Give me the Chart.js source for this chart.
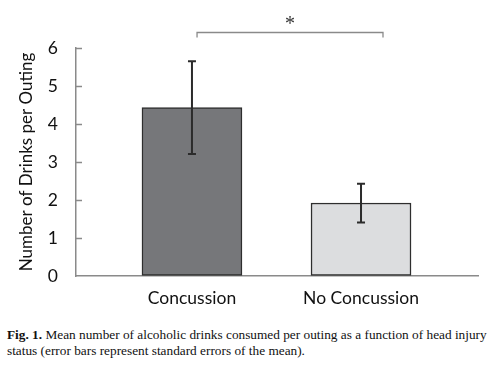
<!DOCTYPE html>
<html>
<head>
<meta charset="utf-8">
<script src="https://cdn.jsdelivr.net/npm/chart.js@4/dist/chart.umd.min.js"></script>
<style>
  html, body { margin: 0; padding: 0; background: #fff; }
  #wrap { position: relative; width: 500px; height: 368px; }
  #chart { position: absolute; left: 0; top: 0; }
  #caption {
    position: absolute; left: 7px; top: 327px; width: 490px;
    font-family: "Liberation Serif", "DejaVu Serif", serif; font-size: 13.3px; line-height: 16px; color: #111;
  }
</style>
</head>
<body>
<div id="wrap">
  <canvas id="chart" width="500" height="318"></canvas>
  <div id="caption"><b>Fig. 1.</b> Mean number of alcoholic drinks consumed per outing as a function of head injury status (error bars represent standard errors of the mean).</div>
</div>
<script>
// ─── DATA ────────────────────────────────────────────────────────────────────
const categories = ["Concussion", "No Concussion"];
const means      = [4.43, 1.92];
const stdErrors  = [1.22, 0.51];
const yTicks     = [0, 1, 2, 3, 4, 5, 6];
const barColors  = ["#76777a", "#dcdddf"];
const sigMark    = "*";

const FONT = "Lato, 'Open Sans', sans-serif";

// error bars + inner y ticks + significance bracket
const extras = {
  id: "extras",
  afterDatasetsDraw(chart){
    const {ctx, scales:{x, y}} = chart;
    ctx.save();
    ctx.strokeStyle = "#2b2b2b";
    ctx.lineWidth = 2;
    means.forEach((m, i) => {
      const px = x.getPixelForValue(i);
      const top = y.getPixelForValue(m + stdErrors[i]);
      const bot = y.getPixelForValue(m - stdErrors[i]);
      ctx.beginPath();
      ctx.moveTo(px, top); ctx.lineTo(px, bot);
      ctx.moveTo(px - 4, top); ctx.lineTo(px + 4, top);
      ctx.moveTo(px - 4, bot); ctx.lineTo(px + 4, bot);
      ctx.stroke();
    });
    ctx.restore();
  },
  afterDraw(chart){
    const {ctx, chartArea, scales:{x, y}} = chart;
    ctx.save();
    // inward tick marks on the y axis
    ctx.strokeStyle = "#8a8a8a";
    ctx.lineWidth = 1.5;
    y.ticks.forEach(t => {
      if(t.value === 0) return;
      const py = Math.round(y.getPixelForValue(t.value)) + 0.5;
      ctx.beginPath();
      ctx.moveTo(chartArea.left, py); ctx.lineTo(chartArea.left + 6, py);
      ctx.stroke();
    });
    // significance bracket
    const x1 = x.getPixelForValue(0.03), x2 = x.getPixelForValue(1.13);
    const by = chartArea.top - 15.5;
    ctx.strokeStyle = "#8a8a8a";
    ctx.lineWidth = 1.3;
    ctx.beginPath();
    ctx.moveTo(x1, by + 5); ctx.lineTo(x1, by); ctx.lineTo(x2, by); ctx.lineTo(x2, by + 5);
    ctx.stroke();
    ctx.fillStyle = "#333";
    ctx.font = "20px 'Liberation Serif', serif";
    ctx.textAlign = "center";
    ctx.textBaseline = "middle";
    ctx.fillText(sigMark, (x1 + x2) / 2, by - 8);
    ctx.restore();
  }
};

new Chart(document.getElementById("chart"), {
  type: "bar",
  data: {
    datasets: [{
      data: means.map((m, i) => ({x: i, y: m})),
      backgroundColor: barColors,
      borderColor: "#2e2e2e",
      borderWidth: 1.5,
      borderSkipped: false,
      barThickness: 100
    }]
  },
  options: {
    responsive: false,
    animation: false,
    layout: { padding: { top: 48, right: 22, left: 0, bottom: 0 } },
    plugins: { legend: { display: false }, tooltip: { enabled: false } },
    scales: {
      x: {
        type: "linear",
        offset: false,
        min: -0.686, max: 1.692,
        afterBuildTicks: s => { s.ticks = categories.map((c, i) => ({value: i})); },
        afterFit: s => { s.height = 42; },
        ticks: {
          callback: v => categories[v],
          color: "#111", padding: 12,
          font: { family: FONT, size: 17.5 }
        },
        grid: { display: true, drawOnChartArea: false, drawTicks: false },
        border: { display: true, color: "#8a8a8a", width: 1.5 }
      },
      y: {
        min: 0, max: 6,
        afterBuildTicks: s => { s.ticks = yTicks.map(v => ({value: v})); },
        afterFit: s => { s.width = 76; },
        ticks: {
          color: "#111", padding: 18,
          font: { family: FONT, size: 17.5 }
        },
        grid: { display: true, drawOnChartArea: false, drawTicks: false },
        border: { display: true, color: "#8a8a8a", width: 1.5 },
        title: {
          display: true, text: "Number of Drinks per Outing",
          color: "#111", padding: { top: 16, bottom: 0 },
          font: { family: FONT, size: 17 }
        }
      }
    }
  },
  plugins: [extras]
});
</script>
</body>
</html>
